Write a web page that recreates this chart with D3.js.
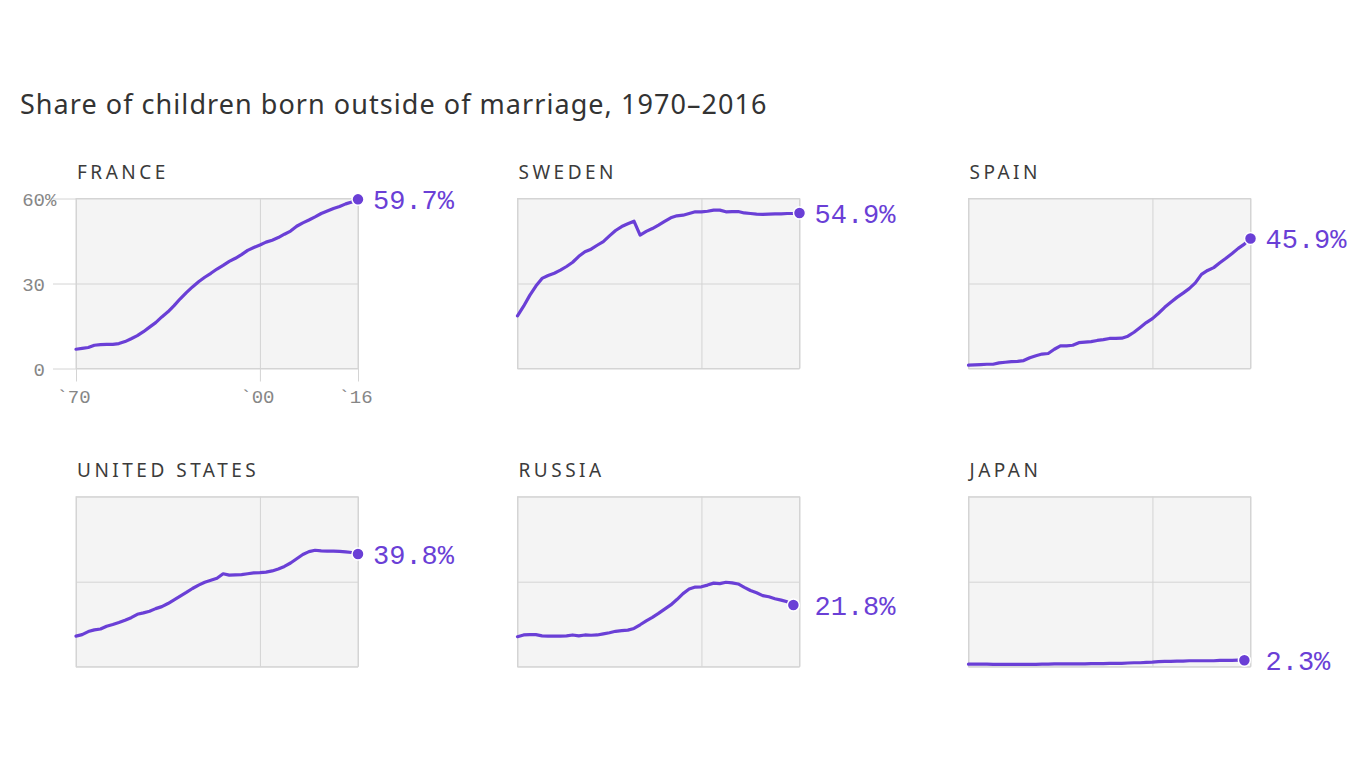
<!DOCTYPE html>
<html>
<head>
<meta charset="utf-8">
<script src="https://cdn.jsdelivr.net/npm/d3@7"></script>
<style>
  html, body { margin: 0; padding: 0; background: #fff; }
  svg { display: block; }
</style>
</head>
<body>
<div id="mainDiv"></div>
<script>
// chart data
const firstYear = 1970;
const lastYear = 2016;
const yTicks = [0, 30, 60];
const xTicks = [1970, 2000, 2016];

const countries = ["France", "Sweden", "Spain", "United States", "Russia", "Japan"];

const franceValues = [
  6.8, 7.1, 7.4, 8.2, 8.4, 8.5, 8.5, 8.8, 9.5, 10.5,
  11.6, 13.0, 14.6, 16.2, 18.2, 20.0, 22.2, 24.6, 26.8, 28.8,
  30.6, 32.2, 33.6, 35.1, 36.4, 37.8, 38.9, 40.2, 41.7, 42.7,
  43.6, 44.6, 45.3, 46.2, 47.4, 48.5, 50.2, 51.4, 52.4, 53.5,
  54.7, 55.6, 56.5, 57.2, 58.1, 58.8, 59.7
];
const swedenValues = [
  18.6, 22.0, 25.8, 29.1, 31.8, 32.8, 33.6, 34.7, 36.0, 37.5,
  39.6, 41.2, 42.1, 43.5, 44.8, 46.8, 48.7, 50.1, 51.1, 52.0,
  47.1, 48.4, 49.4, 50.6, 51.9, 53.2, 53.9, 54.1, 54.7, 55.3,
  55.3, 55.5, 55.9, 55.9, 55.3, 55.4, 55.4, 54.9, 54.7, 54.5,
  54.4, 54.5, 54.6, 54.6, 54.7, 54.7, 54.9
];
const spainValues = [
  1.2, 1.3, 1.4, 1.5, 1.5, 2.0, 2.2, 2.4, 2.5, 2.8,
  3.8, 4.5, 5.1, 5.3, 6.8, 8.0, 8.0, 8.2, 9.1, 9.3,
  9.5, 9.9, 10.2, 10.6, 10.6, 10.7, 11.4, 12.8, 14.5, 16.2,
  17.6, 19.5, 21.6, 23.4, 25.1, 26.6, 28.2, 30.2, 33.2, 34.6,
  35.6, 37.3, 38.9, 40.6, 42.4, 43.9, 45.9
];
const usValues = [
  10.8, 11.3, 12.4, 13.0, 13.3, 14.3, 14.9, 15.6, 16.4, 17.3,
  18.5, 19.0, 19.6, 20.5, 21.2, 22.3, 23.6, 24.9, 26.2, 27.6,
  28.8, 29.8, 30.5, 31.2, 32.8, 32.3, 32.4, 32.5, 32.8, 33.1,
  33.2, 33.4, 33.8, 34.5, 35.4, 36.6, 38.1, 39.6, 40.6, 41.1,
  40.9, 40.8, 40.8, 40.7, 40.5, 40.3, 39.8
];
// Russia and Japan end in 2015
const russiaValues = [
  10.6, 11.2, 11.3, 11.3, 10.9, 10.8, 10.8, 10.8, 10.9, 11.2,
  10.9, 11.2, 11.1, 11.2, 11.6, 12.0, 12.5, 12.7, 12.9, 13.5,
  14.8, 16.2, 17.4, 18.8, 20.3, 21.8, 23.7, 25.8, 27.4, 28.1,
  28.2, 28.8, 29.5, 29.3, 29.8, 29.6, 29.2, 28.0, 26.9, 26.1,
  25.1, 24.7, 24.0, 23.5, 22.9, 21.8
];
const japanValues = [
  0.9, 0.9, 0.9, 0.9, 0.8, 0.8, 0.8, 0.8, 0.8, 0.8,
  0.8, 0.8, 0.9, 0.9, 1.0, 1.0, 1.0, 1.0, 1.0, 1.0,
  1.1, 1.1, 1.1, 1.2, 1.2, 1.2, 1.3, 1.4, 1.4, 1.5,
  1.6, 1.8, 1.9, 1.9, 2.0, 2.0, 2.1, 2.1, 2.1, 2.1,
  2.1, 2.2, 2.2, 2.2, 2.3, 2.3
];

const seriesValues = [franceValues, swedenValues, spainValues, usValues, russiaValues, japanValues];

const lineColor = "#6a3fd6";

const chart = {
  width: 1366,
  height: 768,
  colLeft: [76, 517.5, 968.5],
  rowTop: [198.5, 496.7],
  panelWidth: 282,
  panelHeight: 170,
};

const svg = d3.select("#mainDiv")
  .append("svg")
  .attr("width", chart.width)
  .attr("height", chart.height);

svg.append("text")
  .attr("x", 20)
  .attr("y", 114)
  .attr("fill", "#333")
  .attr("font-family", "'Noto Sans', sans-serif")
  .attr("font-size", 27)
  .attr("letter-spacing", 1.05)
  .text("Share of children born outside of marriage, 1970–2016");

let x = d3.scaleLinear()
  .domain([firstYear, lastYear])
  .range([0, chart.panelWidth]);

let y = d3.scaleLinear()
  .domain([0, 60])
  .range([chart.panelHeight, 0]);

let line = d3.line()
  .x((d, i) => x(firstYear + i))
  .y(d => y(d));

countries.forEach((country, k) => {
  let values = seriesValues[k];
  let left = chart.colLeft[k % 3];
  let top = chart.rowTop[Math.floor(k / 3)];
  let labelled = k === 0;

  const g = svg.append("g")
    .attr("transform", `translate(${left},${top})`);

  g.append("text")
    .attr("x", 1)
    .attr("y", -20)
    .attr("fill", "#3b3b3b")
    .attr("font-family", "'Noto Sans', sans-serif")
    .attr("font-size", 19)
    .attr("letter-spacing", 3.5)
    .text(country.toUpperCase());

  g.append("rect")
    .attr("width", chart.panelWidth)
    .attr("height", chart.panelHeight)
    .attr("fill", "#f4f4f4")
    .attr("stroke", "#d4d4d4");

  // horizontal grid / y axis
  let yAxis = d3.axisLeft(y)
    .tickValues(yTicks)
    .tickSize(labelled ? chart.panelWidth + 23 : chart.panelWidth)
    .tickPadding(8)
    .tickFormat(d => labelled ? d : "");

  g.append("g")
    .attr("transform", `translate(${chart.panelWidth},0)`)
    .call(yAxis)
    .call(a => a.select(".domain").remove())
    .call(a => a.selectAll(".tick line").attr("stroke", "#d4d4d4"))
    .call(a => a.selectAll(".tick text")
      .attr("fill", "#868686")
      .attr("font-family", "'Liberation Mono', monospace")
      .attr("font-size", 19)
      .attr("dy", "0.38em"));

  if (labelled) {
    g.append("text")
      .attr("x", -31)
      .attr("y", y(60))
      .attr("dy", "0.38em")
      .attr("fill", "#868686")
      .attr("font-family", "'Liberation Mono', monospace")
      .attr("font-size", 19)
      .text("%");
  }

  // vertical grid / x axis
  let xAxis = d3.axisBottom(x)
    .tickValues(xTicks)
    .tickSize(labelled ? chart.panelHeight + 13 : chart.panelHeight)
    .tickPadding(8)
    .tickFormat(d => labelled ? "`" + String(d).slice(2) : "");

  g.append("g")
    .call(xAxis)
    .call(a => a.select(".domain").remove())
    .call(a => a.selectAll(".tick line").attr("stroke", "#d4d4d4"))
    .call(a => a.selectAll(".tick text")
      .attr("fill", "#868686")
      .attr("font-family", "'Liberation Mono', monospace")
      .attr("font-size", 19)
      .attr("dx", -3));

  g.append("path")
    .datum(values)
    .attr("fill", "none")
    .attr("stroke", lineColor)
    .attr("stroke-width", 3.2)
    .attr("stroke-linejoin", "round")
    .attr("stroke-linecap", "round")
    .attr("d", line);

  let lastIndex = values.length - 1;
  let lastValue = values[lastIndex];
  let cx = x(firstYear + lastIndex);
  let cy = y(lastValue);

  g.append("circle")
    .attr("cx", cx)
    .attr("cy", cy)
    .attr("r", 6)
    .attr("fill", lineColor)
    .attr("stroke", "#fff")
    .attr("stroke-width", 1.5);

  // value labels line up past the panel's right edge
  g.append("text")
    .attr("x", x(lastYear) + 15)
    .attr("y", cy)
    .attr("dy", "0.36em")
    .attr("fill", lineColor)
    .attr("font-family", "'Liberation Mono', monospace")
    .attr("font-size", 27)
    .text(d3.format(".1f")(lastValue) + "%");
});
</script>
</body>
</html>
